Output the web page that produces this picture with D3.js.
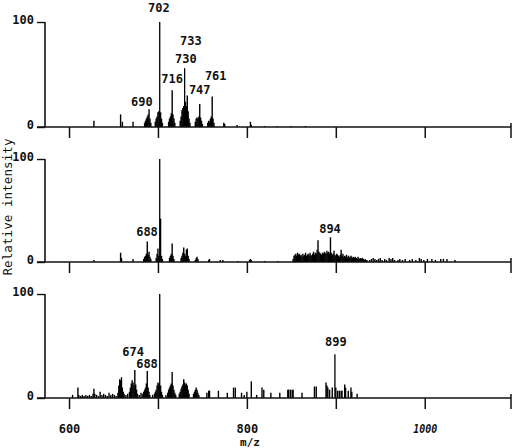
<!DOCTYPE html>
<html>
<head>
<meta charset="utf-8">
<script src="https://cdn.jsdelivr.net/npm/d3@7"></script>
<style>
  body { margin: 0; background: #fff; }
  svg text { font-family: "DejaVu Sans Mono", "Liberation Mono", monospace; fill: #111; }
  .lbl { font-size: 12px; font-weight: bold; }
</style>
</head>
<body>
<div id="chart"></div>
<script>
// spectra: [m/z, relative intensity]
const spectrumA = [
  [628,6],[658,12],[660,5],[672,5],
  [685,4],[686,6],[687,8],[688,10],[689,12],[690,17],[691,8],[692,4],
  [697,5],[698,8],[699,10],[700,14],[701,15],[702,100],[703,14],[704,8],[705,4],
  [712,5],[713,8],[714,10],[715,13],[716,35],[717,12],[718,8],[719,4],
  [725,6],[726,10],[727,16],[728,18],[729,20],[730,56],[731,24],[732,20],[733,30],[734,15],[735,8],[736,4],
  [742,5],[743,8],[744,9],[745,8],[746,10],[747,22],[748,9],[749,6],[750,3],
  [756,4],[757,6],[758,5],[759,8],[760,10],[761,29],[762,8],[763,4],
  [774,4],[775,3],[789,2],[804,5],[805,2],[820,1],[834,1],[850,1],[866,1]
];
const spectrumB = [
  [628,2],[658,9],[659,4],[672,3],[684,3],[685,5],[686,6],[687,8],[688,20],[689,7],[690,10],[691,5],[692,3],
  [698,4],[699,8],[700,13],[701,6],[702,100],[703,42],[704,6],[705,3],
  [713,4],[714,6],[715,8],[716,18],[717,6],[718,3],
  [726,4],[727,6],[728,9],[729,14],[730,8],[731,6],[732,12],[733,13],[734,6],[735,3],
  [742,2],[743,4],[744,5],[745,3],[757,2],[758,3],[770,2],[773,2],[790,1],[803,2],[804,3],[805,2],[820,1],[835,1],
  [938,2],[940,3],[942,4],[944,3],[946,2],[948,3],[950,4],[952,2],[955,3],[957,2],[960,4],[962,3],[964,4],
  [966,2],[970,2],[972,3],[975,2],[978,3],[983,2],[986,3],[990,2],[994,4],[996,3],[999,2],[1003,3],
  [1008,3],[1012,2],[1018,3],[1021,3],[1025,3],[1034,2]
];
// broad hump of spectrum B, one value per m/z from 852
const humpStartB = 852;
const humpB = [3,6,7,8,6,9,7,8,6,7,5,8,6,7,9,6,7,8,6,9,7,6,8,10,7,9,8,12,21,10,9,8,7,9,8,10,9,8,11,9,10,8,24,9,7,8,11,7,6,8,7,6,5,7,12,6,8,5,6,5,7,4,6,5,4,6,5,4,5,4,5,4,3,5,4,3,4,3,4,3,2,3,2,2];
const spectrumC = [
  [604,3],[610,10],[611,3],[613,2],[615,3],[617,2],[619,3],[621,2],[623,3],[625,2],[627,4],[628,9],[629,4],
  [631,3],[633,2],[635,6],[637,3],[639,4],[641,3],[643,2],[645,5],[647,3],[649,4],[651,3],[653,2],
  [655,5],[656,12],[657,18],[658,17],[659,20],[660,10],[661,6],[662,4],[664,3],[666,4],[668,6],[669,10],
  [670,14],[671,17],[672,15],[673,12],[674,27],[675,13],[676,8],[677,4],[679,3],[681,5],[683,4],[684,6],
  [685,8],[686,10],[687,14],[688,26],[689,10],[690,6],[691,3],
  [694,3],[696,4],[697,6],[698,8],[699,12],[700,15],[701,14],[702,100],[703,12],[704,6],[705,3],
  [709,3],[711,5],[712,8],[713,10],[714,12],[715,14],[716,25],[717,12],[718,8],[719,5],[720,3],
  [724,4],[725,6],[726,9],[727,11],[728,13],[729,18],[730,15],[731,13],[732,14],[733,12],[734,8],[735,4],
  [740,4],[741,6],[742,8],[743,10],[744,8],[745,5],[746,3],
  [755,5],[757,7],[758,7],[768,7],[778,5],[785,10],[787,10],[794,5],[797,3],[800,6],[805,16],[811,3],
  [817,10],[819,8],[827,5],[837,5],[846,8],[847,8],[849,8],[851,8],[852,8],[862,5],[876,11],[878,11],
  [889,15],[890,12],[891,10],[893,8],[896,10],[899,42],[900,10],[902,7],[904,7],[906,7],[907,7],
  [910,13],[911,10],[914,7],[917,10],[918,6],[924,4]
];
// peak labels: [text, m/z, intensity level of label baseline]
const labelsA = [["702",701,110],["733",737,78],["730",731.5,61],["716",716,42],["761",765,45],["747",747,31],["690",682,20]];
const labelsB = [["688",687.7,25],["894",893.5,28]];
const labelsC = [["674",672,40],["688",687.7,29],["899",900,50]];

const xTicks = [600, 700, 800, 900, 1000];
const xTickLabels = ["600", "", "800", "", "1000"];
const yTicks = [0, 100];
const xDomain = [573, 1097];

// build hump points into spectrum B
humpB.forEach((v, i) => spectrumB.push([humpStartB + i, v]));

const W = 517, H = 448;
const svg = d3.select("#chart").append("svg")
  .attr("width", W).attr("height", H);

const x = d3.scaleLinear().domain(xDomain).range([45, 511]);

const panels = [
  {data: spectrumA, labels: labelsA, top: 22, bottom: 127},
  {data: spectrumB, labels: labelsB, top: 159, bottom: 262},
  {data: spectrumC, labels: labelsC, top: 294, bottom: 398}
];

panels.forEach((p, k) => {
  const y = d3.scaleLinear().domain([0, 100]).range([p.bottom, p.top]);
  const g = svg.append("g");

  // peaks
  g.append("g").selectAll("line")
    .data(p.data)
    .join("line")
      .attr("x1", d => x(d[0])).attr("x2", d => x(d[0]))
      .attr("y1", y(0)).attr("y2", d => y(d[1]))
      .attr("stroke", "#000")
      .attr("stroke-width", d => d[1] >= 40 ? 1.3 : 1.4);

  // y axis
  const yAxis = g.append("g")
    .attr("transform", "translate(45,0)")
    .call(d3.axisLeft(y).tickValues(yTicks).tickSize(8).tickPadding(3).tickFormat(d3.format("d")));
  yAxis.select(".domain").remove();
  yAxis.selectAll(".tick line").attr("stroke", "#111").attr("stroke-width", 1.4);
  yAxis.selectAll("text").attr("class", "lbl").attr("font-size", 12).attr("dy", "0.1em");
  g.append("line")
    .attr("x1", 45).attr("x2", 45)
    .attr("y1", y(0)).attr("y2", y(100))
    .attr("stroke", "#111").attr("stroke-width", 1.6);

  // x axis baseline with downward ticks
  const xAxis = g.append("g")
    .attr("transform", `translate(0,${y(0)})`)
    .call(d3.axisBottom(x).tickValues(xTicks).tickSize(11).tickPadding(15)
      .tickFormat((d, i) => k === 2 ? xTickLabels[i] : ""));
  xAxis.select(".domain").remove();
  xAxis.selectAll(".tick line").attr("stroke", "#111").attr("stroke-width", 1.5);
  xAxis.selectAll("text").attr("class", "lbl");
  if (k === 2) {
    xAxis.selectAll("text").filter(d => d === 1000)
      .attr("textLength", 24).attr("lengthAdjust", "spacingAndGlyphs")
      .attr("font-style", "italic");
  }
  g.append("line")
    .attr("x1", 37).attr("x2", x(xDomain[1]))
    .attr("y1", y(0)).attr("y2", y(0))
    .attr("stroke", "#111").attr("stroke-width", 1.6);
  g.append("line")
    .attr("x1", x(xDomain[1])).attr("x2", x(xDomain[1]))
    .attr("y1", y(0) - 4).attr("y2", y(0) + 11)
    .attr("stroke", "#111").attr("stroke-width", 1.5);

  // peak labels
  g.append("g").selectAll("text")
    .data(p.labels)
    .join("text")
      .attr("class", "lbl")
      .attr("x", d => x(d[1]))
      .attr("y", d => y(d[2]))
      .attr("text-anchor", "middle")
      .text(d => d[0]);
});

// axis titles
svg.append("text")
  .attr("x", 250).attr("y", 446)
  .attr("text-anchor", "middle")
  .attr("font-size", 11).attr("font-weight", "bold")
  .text("m/z");

svg.append("text")
  .attr("transform", "translate(12,207) rotate(-90)")
  .attr("text-anchor", "middle")
  .attr("font-size", 12)
  .attr("textLength", 137).attr("lengthAdjust", "spacingAndGlyphs")
  .text("Relative intensity");
</script>
</body>
</html>
